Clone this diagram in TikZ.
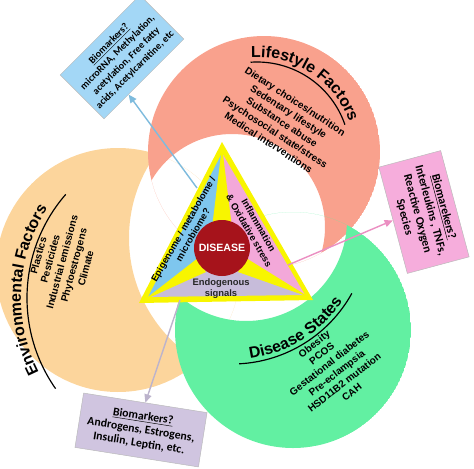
\documentclass[tikz,border=0pt]{standalone}
\usepackage{fontspec}
\setmainfont{Liberation Sans}
\newfontfamily\boxfont{Carlito}
\usetikzlibrary{arrows.meta,decorations.text}

\definecolor{lifecol}{HTML}{F9A18D}
\definecolor{envcol}{HTML}{FCD59C}
\definecolor{discol}{HTML}{62F0A2}
\definecolor{triyel}{HTML}{F8F500}
\definecolor{triblue}{HTML}{7EC6EE}
\definecolor{tripink}{HTML}{F3A8D9}
\definecolor{trilav}{HTML}{C7BCDA}
\definecolor{disred}{HTML}{A6131B}
\definecolor{boxblue}{HTML}{A3D7F6}
\definecolor{boxpink}{HTML}{F6ADDC}
\definecolor{boxlav}{HTML}{D0C5E0}

\tikzset{
  titletext/.style={decorate, decoration={text along path, text align=center,
    text={|\bfseries\fontsize{13.5}{13.5}\selectfont|#1}}},
  listtext/.style={font=\bfseries\fontsize{8.5}{10.4}\selectfont, align=center},
  tritext/.style={font=\bfseries\fontsize{8}{9.4}\selectfont, align=center},
  biobox/.style={font=\boxfont\bfseries\fontsize{10}{11.5}\selectfont, align=center,
    draw=gray!55, line width=0.4pt, inner sep=3pt},
  bioarrow/.style={-{Triangle[length=7pt,width=6pt]}, line width=1.2pt}
}

\begin{document}
\begin{tikzpicture}[x=0.85pt, y=0.85pt]
  \useasboundingbox (0,0) rectangle (474,-468);

  % crescents
  \begin{scope}
    \clip (118,-270) circle[radius=122];
    \fill[envcol, even odd rule] (118,-270) circle[radius=122] (273,-238) circle[radius=144];
  \end{scope}
  \begin{scope}
    \clip (264,-152) circle[radius=116];
    \fill[lifecol, even odd rule] (264,-152) circle[radius=116] (232,-227) circle[radius=93];
  \end{scope}
  \begin{scope}
    \clip (293,-330) circle[radius=118];
    \fill[discol, even odd rule] (293,-330) circle[radius=118] (246,-220) circle[radius=101];
  \end{scope}

  % titles and lists
  \path[titletext=Lifestyle Factors] (257,-155) ++(95:98) arc[start angle=95, end angle=18, radius=98];
  \draw[line width=1pt] (257,-155) ++(94:93) arc[start angle=94, end angle=19, radius=93];
  \node[listtext, rotate=-33] (lifeList) at (282,-122)
    {Dietary choices/nutrition\\Sedentary lifestyle\\Substance abuse\\Psychosocial state/stress\\Medical interventions};

  \path[titletext=Environmental Factors] (185,-298) ++(216:164) arc[start angle=216, end angle=138, radius=164];
  \draw[line width=1pt] (185,-298) ++(215:158) arc[start angle=215, end angle=139, radius=158];
  \node[listtext, rotate=75] (envList) at (62,-262)
    {Plastics\\Pesticides\\Industrial emissions\\Phytoestrogens\\Climate};

  \path[titletext=Disease States] (232,-227) ++(-88:133) arc[start angle=-88, end angle=-28, radius=133];
  \draw[line width=1pt] (232,-227) ++(-87:137) arc[start angle=-87, end angle=-29, radius=137];
  \node[listtext, rotate=38] (disList) at (333,-368)
    {Obesity\\PCOS\\Gestational diabetes\\Pre-eclampsia\\HSD11B2 mutation\\CAH};

  % central triangle
  \fill[triyel] (222,-142) -- (139,-303) -- (313,-300) -- cycle;
  \fill[triblue] (222,-153) -- (148,-297) -- (222,-248) -- cycle;
  \fill[tripink] (222,-153) -- (305,-295) -- (222,-248) -- cycle;
  \fill[trilav] (148,-297) -- (305,-295) -- (222,-248) -- cycle;
  \fill[triyel] (222,-146) -- (212,-228) -- (232,-228) -- cycle;
  \fill[triyel] (144,-300) -- (198,-258) -- (206,-272) -- cycle;
  \fill[triyel] (309,-297) -- (238,-272) -- (246,-258) -- cycle;
  \node[circle, fill=disred, minimum size=56*0.85pt, inner sep=0pt,
        text=white, font=\bfseries\fontsize{9}{9}\selectfont] (disease) at (222,-248) {DISEASE};

  \node[tritext, rotate=60] (epiText) at (188,-232) {Epigenome / metabolome /\\microbiome?};
  \node[tritext, rotate=-60] (inflText) at (254,-228) {Inflammation\\\& Oxidative stress};
  \node[tritext, text=black!85] (endoText) at (221,-289) {Endogenous\\signals};

  % biomarker boxes
  \node[biobox, fill=boxblue, rotate=45, font=\boxfont\bfseries\fontsize{8.5}{10.5}\selectfont,
        minimum width=100*0.85pt, minimum height=62*0.85pt] (bioEpi) at (122,-57)
    {\underline{Biomarkers?}\\microRNA, Methylation,\\acetylation, Free fatty\\acids, Acetylcarnitine, etc};
  \node[biobox, fill=boxpink, rotate=-75, minimum width=110*0.85pt, minimum height=64*0.85pt] (bioInfl) at (424,-212)
    {\underline{Biomarekers?}\\Interleukins , TNFs,\\Reactive Oxygen\\Species};
  \node[biobox, fill=boxlav, rotate=-9, minimum width=125*0.85pt, minimum height=55*0.85pt] (bioEndo) at (141,-430)
    {\underline{Biomarkers?}\\Androgens, Estrogens,\\Insulin, Leptin, etc.};

  \coordinate (epiStart) at (197,-188);
  \coordinate (inflStart) at (288,-265);
  \coordinate (endoStart) at (180,-300);
  \draw[bioarrow, color=triblue!85!gray] (epiStart) -- (bioEpi.-125);
  \draw[bioarrow, color=tripink!85!purple] (inflStart) -- (bioInfl.south);
  \draw[bioarrow, color=trilav!85!gray] (endoStart) -- (bioEndo.north);
\end{tikzpicture}
\end{document}
